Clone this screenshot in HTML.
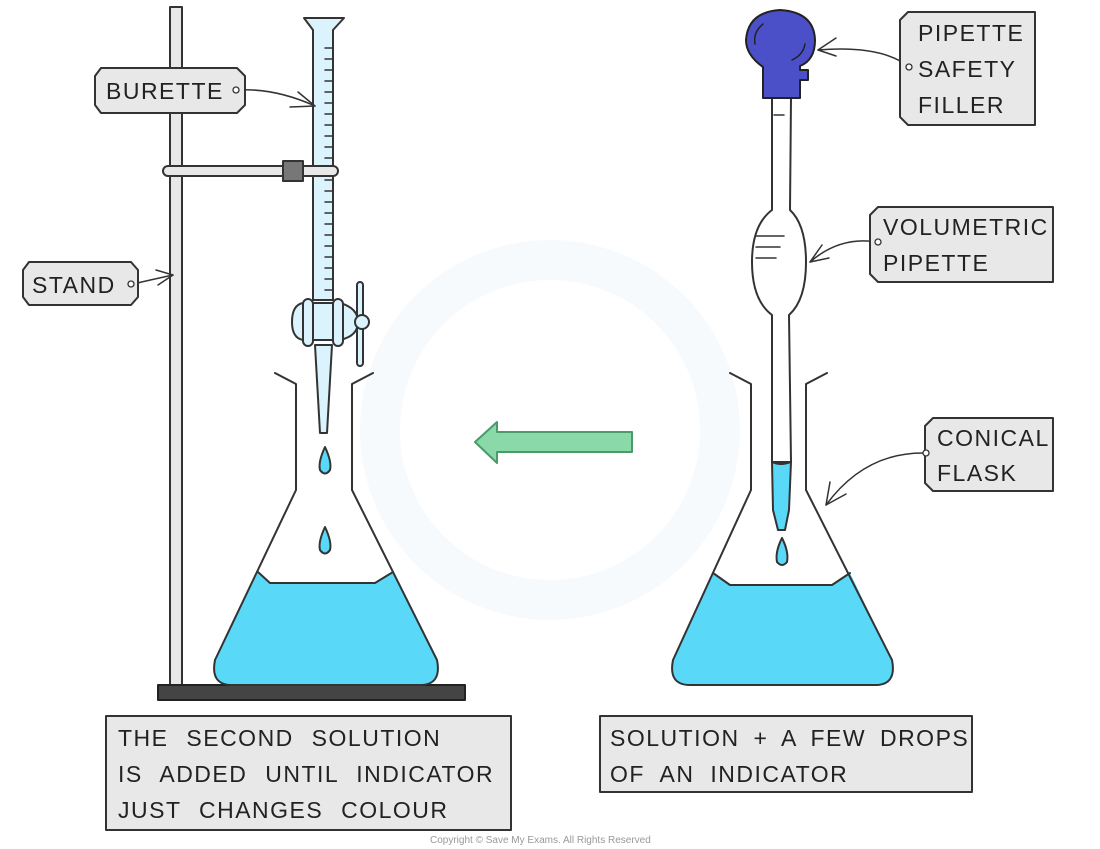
<!DOCTYPE html>
<html><head><meta charset="utf-8"><style>
body{margin:0;background:#fff}
svg{display:block}
text{font-family:"Liberation Sans",sans-serif;font-size:23px;fill:#222;letter-spacing:1.5px}
</style></head><body>
<svg width="1100" height="849" viewBox="0 0 1100 849" xmlns="http://www.w3.org/2000/svg">
<g fill="none" stroke="#333" stroke-width="2" stroke-linejoin="round" stroke-linecap="round">
<!-- faint watermark -->
<circle cx="550" cy="430" r="170" stroke="#f7fafd" stroke-width="40"/>
<!-- stand -->
<rect x="170" y="7" width="12" height="680" fill="#e8e8e8"/>
<rect x="158" y="685" width="307" height="15" fill="#444" stroke="#222"/>
<!-- burette -->
<path d="M304 18 L313 30 L313 300 L333 300 L333 30 L344 18 Z" fill="#daf3fc"/>
<g stroke-width="1.5">
<path d="M325 48h8M325 59h8M325 70h8M325 81h8M325 92h8M325 103h8M325 114h8M325 125h8M325 136h8M325 147h8M325 158h8M325 180h8M325 191h8M325 202h8M325 213h8M325 224h8M325 235h8M325 246h8M325 257h8M325 268h8M325 279h8M325 290h8"/>
</g>
<rect x="163" y="166" width="175" height="10" rx="5" fill="#e8e8e8"/>
<rect x="283" y="161" width="20" height="20" fill="#777"/>
<path d="M315 345 L320 433 L327 433 L332 345 Z" fill="#daf3fc"/>
<path d="M303 303 Q292 305 292 322 Q292 338 303 340 L340 340 Q358 336 358 322 Q358 308 340 303 Z" fill="#daf3fc"/>
<rect x="303" y="299" width="10" height="47" rx="5" fill="#daf3fc"/>
<rect x="333" y="299" width="10" height="47" rx="5" fill="#daf3fc"/>
<rect x="357" y="282" width="6" height="84" rx="3" fill="#daf3fc"/>
<circle cx="362" cy="322" r="7" fill="#daf3fc"/>
<!-- left flask -->
<path d="M258 572 L270 583 L375 583 L393 572 L437 660 Q442 685 420 685 L232 685 Q210 685 215 660 Z" fill="#5ad8f8" stroke="none"/>
<path d="M275 373 L296 384 L296 490 L215 660 Q210 685 232 685 L420 685 Q442 685 437 660 L352 490 L352 384 L373 373"/>
<path d="M258 572 L270 583 L375 583 L393 572"/>
<path d="M325 447 Q318 462 320 470 Q325 477 330 470 Q332 462 325 447 Z" fill="#5ad8f8"/>
<path d="M325 527 Q318 542 320 550 Q325 557 330 550 Q332 542 325 527 Z" fill="#5ad8f8"/>
<!-- right flask -->
<path d="M713 573 L730 585 L832 585 L850 573 L892 660 Q897 685 875 685 L690 685 Q668 685 673 660 Z" fill="#5ad8f8" stroke="none"/>
<path d="M730 373 L751 384 L751 490 L673 660 Q668 685 690 685 L875 685 Q897 685 892 660 L806 490 L806 384 L827 373"/>
<path d="M713 573 L730 585 L832 585 L850 573"/>
<!-- pipette -->
<path d="M772 98 L772 210 Q752 225 752 262 Q752 300 772 315 L772 462 L791 462 L789 315 Q806 300 806 262 Q806 225 790 210 L791 98 Z" fill="#fff"/>
<path d="M772 462 L773 510 L778 530 L785 530 L789 510 L791 462 Q781 466 772 462 Z" fill="#5ad8f8"/>
<path d="M774 115h10M756 236h28M756 247h24M756 258h20" stroke-width="1.5"/>
<path d="M782 538 Q775 552 777 562 Q782 568 787 562 Q789 552 782 538 Z" fill="#5ad8f8"/>
<path d="M763 67 Q746 55 746 40 Q748 12 780 10 Q814 12 815 40 Q815 60 800 66 L800 70 L808 70 L808 80 L800 80 L800 98 L763 98 Z" fill="#4b50c8" stroke="#222"/>
<path d="M755 44 Q753 32 763 24M792 60 Q803 55 805 44" stroke="#222" stroke-width="1.5"/>
<!-- green arrow -->
<path d="M475 442 L497 422 L497 432 L632 432 L632 452 L497 452 L497 463 Z" fill="#8ad9a8" stroke="#4a9a6a"/>
<!-- connectors -->
<g stroke-width="1.5">
<path d="M238 90 Q275 88 315 106"/><path d="M298 92 L315 106 L290 107"/>
<path d="M133 284 Q150 280 173 275"/><path d="M158 285 L173 275 L156 270"/>
<path d="M908 66 Q880 45 818 50"/><path d="M836 38 L818 50 L836 56"/>
<path d="M877 242 Q840 236 810 262"/><path d="M822 245 L810 262 L829 258"/>
<path d="M925 453 Q865 452 826 505"/><path d="M830 482 L826 505 L846 494"/>
</g>
<!-- labels -->
<g fill="#e8e8e8">
<path d="M101 68 L237 68 L245 76 L245 105 L237 113 L101 113 L95 105 L95 76 Z"/>
<path d="M29 262 L131 262 L138 270 L138 297 L131 305 L29 305 L23 297 L23 270 Z"/>
<path d="M908 12 L1035 12 L1035 125 L908 125 L900 117 L900 20 Z"/>
<path d="M878 207 L1053 207 L1053 282 L878 282 L870 274 L870 215 Z"/>
<path d="M933 418 L1053 418 L1053 491 L933 491 L925 483 L925 426 Z"/>
<rect x="106" y="716" width="405" height="114"/>
<rect x="600" y="716" width="372" height="76"/>
</g>
<g stroke-width="1.3"><circle cx="236" cy="90" r="3" fill="#fff"/><circle cx="131" cy="284" r="3" fill="#fff"/><circle cx="909" cy="67" r="3" fill="#fff"/><circle cx="878" cy="242" r="3" fill="#fff"/><circle cx="926" cy="453" r="3" fill="#fff"/></g>
</g>
<text x="106" y="99">BURETTE</text>
<text x="32" y="293">STAND</text>
<text x="918" y="41">PIPETTE</text>
<text x="918" y="77">SAFETY</text>
<text x="918" y="113">FILLER</text>
<text x="883" y="235">VOLUMETRIC</text>
<text x="883" y="271">PIPETTE</text>
<text x="937" y="446">CONICAL</text>
<text x="937" y="481">FLASK</text>
<text x="118" y="746" style="word-spacing:10px">THE SECOND SOLUTION</text>
<text x="118" y="782" style="word-spacing:10px">IS ADDED UNTIL INDICATOR</text>
<text x="118" y="818" style="word-spacing:10px">JUST CHANGES COLOUR</text>
<text x="610" y="746" style="word-spacing:6px">SOLUTION + A FEW DROPS</text>
<text x="610" y="782" style="word-spacing:8px">OF AN INDICATOR</text>
<text x="430" y="843" style="font-size:10px;fill:#999;letter-spacing:0">Copyright © Save My Exams. All Rights Reserved</text>
</svg>
</body></html>
